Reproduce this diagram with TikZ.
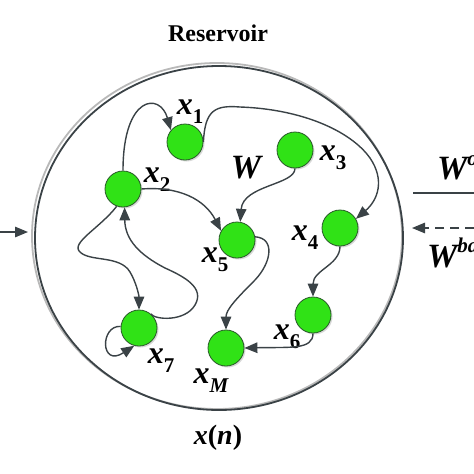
\documentclass[tikz,border=0pt]{standalone}
\usepackage{fontspec}
\setmainfont{Liberation Serif}
\usetikzlibrary{arrows.meta,shadows}
\definecolor{ngreen}{RGB}{48,226,22}
\definecolor{nborder}{RGB}{40,90,40}
\definecolor{edgec}{RGB}{58,66,70}
\newcommand\mysub[1]{\raisebox{-0.28em}{\fontsize{21}{21}\selectfont\bfseries\upshape #1}}
\newcommand\mysubit[1]{\raisebox{-0.28em}{\fontsize{21}{21}\selectfont\bfseries\itshape #1}}
\newcommand\mysup[1]{\raisebox{0.42em}{\fontsize{21}{21}\selectfont\bfseries\itshape #1}}
\tikzset{
  neuron/.style={circle, minimum size=36pt, inner sep=0pt, fill=ngreen, draw=nborder, line width=0.8pt,
    drop shadow={shadow xshift=1.5pt, shadow yshift=-1.5pt, fill=black!30}},
  link/.style={draw=edgec, line width=1.4pt, -{Triangle[length=13pt,width=10.5pt]}},
  lab/.style={font=\fontsize{32}{32}\selectfont\bfseries\itshape, inner sep=0pt},
}
\begin{document}
\begin{tikzpicture}[x=1pt,y=-1pt]
\useasboundingbox (0,0) rectangle (474,474);
\clip (0,0) rectangle (474,474);
% reservoir boundary
\draw[gray!55, line width=1.8pt] (217,236) ellipse [x radius=185, y radius=173];
\draw[edgec, line width=1.8pt] (219,238) ellipse [x radius=184, y radius=172];
% neurons
\node[neuron] (x1) at (185,142) {};
\node[neuron] (x2) at (123,189) {};
\node[neuron] (x3) at (295,150) {};
\node[neuron] (x4) at (340,228) {};
\node[neuron] (x5) at (237,240) {};
\node[neuron] (x6) at (313,315) {};
\node[neuron] (xM) at (226,348) {};
\node[neuron] (x7) at (139,328) {};
% labels
\node[font=\fontsize{24}{24}\selectfont\bfseries, inner sep=0pt] (title) at (218,33) {Reservoir};
\node[lab] (l1) at (190,112) {x\mysub{1}};
\node[lab] (l2) at (157,180) {x\mysub{2}};
\node[lab] (l3) at (333,158) {x\mysub{3}};
\node[lab] (l4) at (305,238) {x\mysub{4}};
\node[lab] (l5) at (215,260) {x\mysub{5}};
\node[lab] (l6) at (287,337) {x\mysub{6}};
\node[lab] (l7) at (161,361) {x\mysub{7}};
\node[lab] (lM) at (211,381) {x\mysubit{M}};
\node[lab, font=\fontsize{34}{34}\selectfont\bfseries\itshape] (lW) at (246,168) {W};
\node[lab, font=\fontsize{28}{28}\selectfont\bfseries\itshape] (lxn) at (218,438) {x{\upshape(}n{\upshape)}};
\node[lab, anchor=west, font=\fontsize{34}{34}\selectfont\bfseries\itshape] (lWout) at (437,167) {W\mysup{out}};
\node[lab, anchor=west, font=\fontsize{34}{34}\selectfont\bfseries\itshape] (lWback) at (427,253) {W\mysup{back}};
% external connectors
\coordinate (inL) at (0,232);
\coordinate (inR) at (28,232);
\draw[link] (inL) -- (inR);
\coordinate (outL) at (413,193);
\coordinate (outR) at (474,193);
\draw[edgec, line width=1.4pt] (outL) -- (outR);
\coordinate (bkR) at (474,228);
\coordinate (bkL) at (412,228);
\draw[link, dash pattern=on 9pt off 6pt] (bkR) -- (bkL);
% internal connectors
\draw[link] (x2.north) .. controls (123,95) and (160,92) .. (x1.140);
\draw[link] (x1.east) .. controls (205,110) and (215,105) .. (240,107)
  .. controls (300,109) and (350,130) .. (370,158)
  .. controls (385,180) and (378,200) .. (x4.30);
\draw[link] (x3.south) .. controls (295,185) and (243,185) .. (x5.80);
\draw[link] (x2.east) .. controls (180,186) and (205,200) .. (x5.150);
\draw[link] (x4.south) .. controls (340,265) and (313,270) .. (x6.north);
\draw[link] (x5.10) .. controls (275,238) and (272,262) .. (255,280)
  .. controls (235,300) and (226,310) .. (xM.north);
\draw[link] (x6.south) .. controls (313,350) and (290,347) .. (xM.east);
\draw[link] (x2.250) .. controls (100,228) and (70,243) .. (80,252)
  .. controls (90,262) and (120,255) .. (130,272)
  .. controls (136,282) and (139,295) .. (x7.north);
\draw[link] (x7.50) .. controls (155,320) and (185,322) .. (195,305)
  .. controls (205,288) and (185,277) .. (165,268)
  .. controls (140,255) and (125,240) .. (x2.275);
\draw[link] (x7.175) .. controls (100,325) and (100,368) .. (x7.255);
\end{tikzpicture}
\end{document}
